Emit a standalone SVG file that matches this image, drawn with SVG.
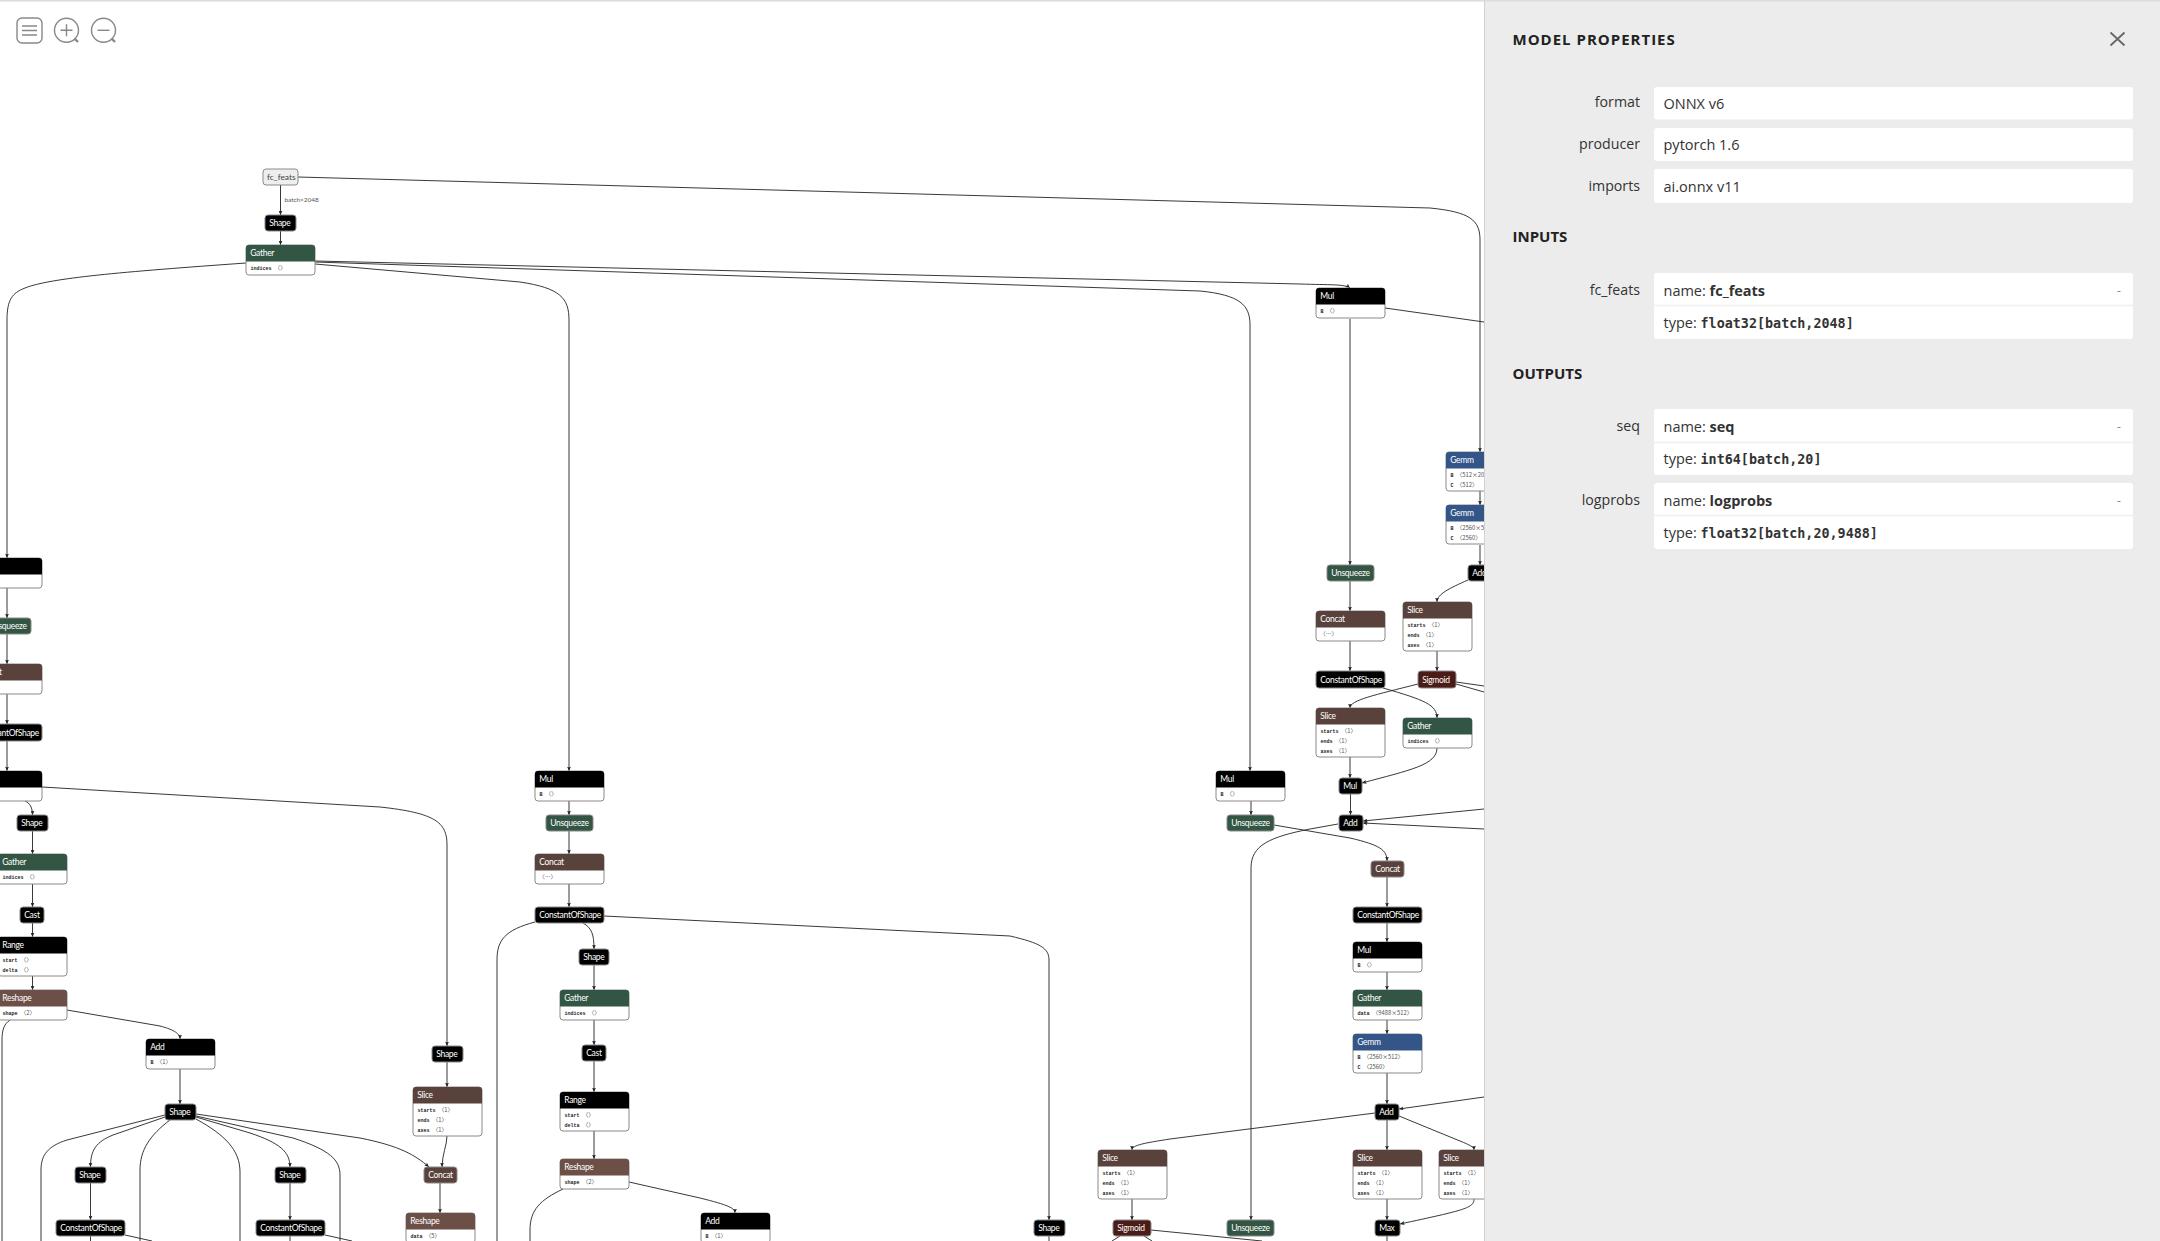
<svg xmlns="http://www.w3.org/2000/svg" width="2160" height="1241" viewBox="0 0 2160 1241">
<style>
.bg{fill:#fff}
.e{fill:none;stroke:#222;stroke-width:.9;marker-end:url(#a)}
.n{fill:none;stroke:#222;stroke-width:.9}
.r{fill:#fff;stroke:#8a8a8a;stroke-width:1}
.o{stroke:#8a8a8a;stroke-width:1}
.k{fill:#000}.g{fill:#335544}.m{fill:#59423b}.h{fill:#6c4f47}.b{fill:#335588}.s{fill:#4b1b16}
text{font-family:"Open Sans","Noto Sans",sans-serif}
.t{fill:#fff;font-size:8.500px;letter-spacing:-.3px;font-family:Lato,"Open Sans",sans-serif;transform:translate(-.3px,0)}
.a{font-family:"Liberation Mono","Noto Sans CJK SC",monospace;font-size:5px;font-weight:700;fill:#222}
.v{font-family:"Noto Sans CJK SC","Liberation Mono",monospace;font-size:5.800px;font-weight:400;fill:#555}
.i{fill:none;stroke:#888;stroke-width:1.4}
.pl{font-size:14.200px;fill:#333;text-anchor:end}
.pv{font-size:14.500px;fill:#333}
.pb{font-weight:700}
.pm{font-family:"DejaVu Sans Mono",monospace;font-size:13.400px;font-weight:700}
.ph{font-size:15px;font-weight:700;fill:#222}
.row{fill:#fff}
.dv{stroke:#f0f0f0;stroke-width:1.500}
</style>
<defs>
<marker id="a" markerUnits="userSpaceOnUse" markerWidth="5" markerHeight="4" refX="4.500" refY="2" orient="auto"><path d="M0 0L4.500 2L0 4L1 2Z" fill="#222"/></marker>
<path id="hd" d="M0 16.500V3a3 3 0 0 1 3-3H66a3 3 0 0 1 3 3V16.500Z"/>
<rect id="r30" width="69" height="30" rx="3"/>
<rect id="r39" width="69" height="39" rx="3"/>
<rect id="r49" width="69" height="49" rx="3"/>
</defs>
<rect class="bg" width="2160" height="1241"/>
<rect width="2160" height="1.500" fill="#dcdce0"/>
<g id="connectors">
<path class="e" d="M298 177L1430 208C1470 212 1480 220 1480 240V452"/>
<path class="e" d="M280.500 185V215"/>
<path class="e" d="M280.500 231V245"/>
<path class="e" d="M315 261L1300 284C1330 285 1345 284 1350 288"/>
<path class="e" d="M315 262L1200 291C1240 295 1250 305 1250 325V771"/>
<path class="e" d="M315 264L520 282C560 288 569 298 569 320V771"/>
<path class="e" d="M246 263C120 272 50 278 25 288C12 293 7 300 7 320V558"/>
<path class="n" d="M1385 308L1484 322"/>
<path class="e" d="M1350 319V565"/>
<path class="e" d="M1350 581V611"/>
<path class="e" d="M1350 641V671"/>
<path class="e" d="M1383 688C1425 700 1437 705 1437 718"/>
<path class="e" d="M1418 684C1375 695 1350 700 1350 708"/>
<path class="e" d="M1480 491V505"/>
<path class="e" d="M1480 545V565"/>
<path class="e" d="M1468 580C1450 588 1437 594 1437 602"/>
<path class="e" d="M1437 651V671"/>
<path class="n" d="M1456 682L1484 686M1456 684L1484 692"/>
<path class="e" d="M1350 757V778"/>
<path class="e" d="M1437 748C1437 765 1410 770 1362 783"/>
<path class="e" d="M1350.500 794V815"/>
<path class="e" d="M1484 809L1363 821"/>
<path class="e" d="M1484 829L1363 823"/>
<path class="e" d="M1274 825L1350 838C1380 845 1387 850 1387 861"/>
<path class="e" d="M1338 824L1310 829C1270 837 1251 845 1251 868V1220"/>
<path class="e" d="M1251 801V815"/>
<path class="e" d="M1387 877V907"/>
<path class="e" d="M1387 923V942"/>
<path class="e" d="M1387 972V990"/>
<path class="e" d="M1387 1020V1034"/>
<path class="e" d="M1387 1073V1104"/>
<path class="e" d="M1484 1097L1399 1109"/>
<path class="e" d="M1375 1113L1170 1139C1145 1143 1132 1145 1132 1150"/>
<path class="e" d="M1399 1116L1460 1141C1470 1145 1474 1147 1474 1150"/>
<path class="e" d="M1387 1120V1150"/>
<path class="e" d="M1387 1199V1220"/>
<path class="e" d="M1474 1199C1474 1208 1465 1210 1400 1224"/>
<path class="n" d="M1387 1236V1241"/>
<path class="n" d="M1151 1230L1262 1241M1120 1236L1112 1241M1144 1236L1152 1241"/>
<path class="e" d="M1132 1199V1220"/>
<path class="e" d="M604 916L1010 936C1040 943 1049 948 1049 960V1220"/>
<path class="n" d="M1049 1236V1241"/>
<path class="e" d="M583 923C592 928 594 935 594 949"/>
<path class="n" d="M535 922C505 930 497 940 497 960V1241"/>
<path class="e" d="M569 801V815"/>
<path class="e" d="M569 831V854"/>
<path class="e" d="M569 884V907"/>
<path class="e" d="M594 965V990"/>
<path class="e" d="M594 1020V1045"/>
<path class="e" d="M594 1061V1092"/>
<path class="e" d="M594 1131V1159"/>
<path class="e" d="M629 1182L700 1198C728 1205 735 1208 735 1213"/>
<path class="n" d="M563 1189C540 1200 530 1210 530 1230V1241"/>
<path class="e" d="M7 588V618"/>
<path class="e" d="M7 634V664"/>
<path class="e" d="M7 694V724"/>
<path class="e" d="M7 741V771"/>
<path class="e" d="M42 787L380 807C435 813 447 822 447 845V1046"/>
<path class="e" d="M25 801C30 803 32.500 808 32.500 815"/>
<path class="e" d="M32.500 831V854"/>
<path class="e" d="M32.500 884V907"/>
<path class="e" d="M32.500 923V937"/>
<path class="e" d="M32.500 976V990"/>
<path class="e" d="M67 1010L160 1026C175 1030 180 1034 180 1039"/>
<path class="n" d="M10 1020C4 1024 2 1030 2 1040V1241"/>
<path class="e" d="M180 1068V1104"/>
<path class="n" d="M165 1115L67 1140C48 1146 41 1155 41 1170V1241"/>
<path class="e" d="M165 1117L113 1135C96 1142 90.500 1150 90.500 1167"/>
<path class="n" d="M170 1120C150 1135 140 1150 140 1170V1241"/>
<path class="n" d="M196 1119C225 1135 240 1150 240 1172V1241"/>
<path class="e" d="M196 1117L250 1133C280 1143 290 1152 290 1167"/>
<path class="n" d="M196 1116L293 1138C330 1150 340 1160 340 1175V1241"/>
<path class="e" d="M196 1114L360 1138C400 1146 415 1155 429 1167"/>
<path class="e" d="M447 1062V1087"/>
<path class="e" d="M447 1136C447 1145 442 1155 442 1167"/>
<path class="e" d="M440 1183V1213"/>
<path class="e" d="M90.500 1183V1220"/>
<path class="e" d="M290 1183V1220"/>
<path class="n" d="M90.500 1236V1241M290 1236V1241M125 1235L152 1241M325 1235L352 1241"/>
</g>
<g id="fc_feats"><rect x="263" y="169" width="35" height="16" rx="3" fill="#eee" class="o"/><text x="267" y="180" font-size="8.400" fill="#444" style="font-family:Lato,sans-serif">fc_feats</text></g>
<text id="edge-label" x="284.500" y="201.500" font-size="6.400" fill="#555" style="font-family:Lato,sans-serif">batch×2048</text>
<g id="shape1" transform="translate(265 215)"><rect class="k o" width="31" height="16" rx="3"/><text class="t" x="4.500" y="11">Shape</text></g>
<g id="gather1" transform="translate(246 245)"><use href="#r30" class="r"/><use href="#hd" class="g"/><text class="t" x="4.500" y="11">Gather</text><text class="a" x="4.500" y="25">indices <tspan class="v">〈〉</tspan></text></g>
<g id="mul1" transform="translate(1316 288)"><use href="#r30" class="r"/><use href="#hd" class="k"/><text class="t" x="4.500" y="11">Mul</text><text class="a" x="4.500" y="25">B <tspan class="v">〈〉</tspan></text></g>
<g id="gemm1" transform="translate(1446 452)"><use href="#r39" class="r"/><use href="#hd" class="b"/><text class="t" x="4.500" y="11">Gemm</text><text class="a" x="4.500" y="25">B <tspan class="v">〈512×2048〉</tspan></text><text class="a" x="4.500" y="35">C <tspan class="v">〈512〉</tspan></text></g>
<g id="gemm2" transform="translate(1446 505)"><use href="#r39" class="r"/><use href="#hd" class="b"/><text class="t" x="4.500" y="11">Gemm</text><text class="a" x="4.500" y="25">B <tspan class="v">〈2560×512〉</tspan></text><text class="a" x="4.500" y="35">C <tspan class="v">〈2560〉</tspan></text></g>
<g id="unsq1" transform="translate(1327 565)"><rect class="g o" width="47" height="16" rx="3"/><text class="t" x="4.500" y="11">Unsqueeze</text></g>
<g id="add1" transform="translate(1468 565)"><rect class="k o" width="24" height="16" rx="3"/><text class="t" x="4.500" y="11">Add</text></g>
<g id="concat1" transform="translate(1316 611)"><use href="#r30" class="r"/><use href="#hd" class="m"/><text class="t" x="4.500" y="11">Concat</text><text class="v" x="4" y="25">〈…〉</text></g>
<g id="slice1" transform="translate(1403 602)"><use href="#r49" class="r"/><use href="#hd" class="m"/><text class="t" x="4.500" y="11">Slice</text><text class="a" x="4.500" y="25">starts <tspan class="v">〈1〉</tspan></text><text class="a" x="4.500" y="35">ends <tspan class="v">〈1〉</tspan></text><text class="a" x="4.500" y="45">axes <tspan class="v">〈1〉</tspan></text></g>
<g id="cos1" transform="translate(1316 671)"><rect class="k o" width="69" height="17" rx="3"/><text class="t" x="4.500" y="11.500">ConstantOfShape</text></g>
<g id="sigmoid1" transform="translate(1418 671)"><rect class="s o" width="38" height="17" rx="3"/><text class="t" x="4.500" y="11.500">Sigmoid</text></g>
<g id="slice2" transform="translate(1316 708)"><use href="#r49" class="r"/><use href="#hd" class="m"/><text class="t" x="4.500" y="11">Slice</text><text class="a" x="4.500" y="25">starts <tspan class="v">〈1〉</tspan></text><text class="a" x="4.500" y="35">ends <tspan class="v">〈1〉</tspan></text><text class="a" x="4.500" y="45">axes <tspan class="v">〈1〉</tspan></text></g>
<g id="gather2" transform="translate(1403 718)"><use href="#r30" class="r"/><use href="#hd" class="g"/><text class="t" x="4.500" y="11">Gather</text><text class="a" x="4.500" y="25">indices <tspan class="v">〈〉</tspan></text></g>
<g id="mul2" transform="translate(1339 778)"><rect class="k o" width="23" height="16" rx="3"/><text class="t" x="4.500" y="11">Mul</text></g>
<g id="add2" transform="translate(1339 815)"><rect class="k o" width="24" height="16" rx="3"/><text class="t" x="4.500" y="11">Add</text></g>
<g id="mul3" transform="translate(1216 771)"><use href="#r30" class="r"/><use href="#hd" class="k"/><text class="t" x="4.500" y="11">Mul</text><text class="a" x="4.500" y="25">B <tspan class="v">〈〉</tspan></text></g>
<g id="unsq2" transform="translate(1227 815)"><rect class="g o" width="47" height="16" rx="3"/><text class="t" x="4.500" y="11">Unsqueeze</text></g>
<g id="concat2" transform="translate(1371 861)"><rect class="m o" width="33" height="16" rx="3"/><text class="t" x="4.500" y="11">Concat</text></g>
<g id="cos2" transform="translate(1353 907)"><rect class="k o" width="69" height="16" rx="3"/><text class="t" x="4.500" y="11">ConstantOfShape</text></g>
<g id="mul4" transform="translate(1353 942)"><use href="#r30" class="r"/><use href="#hd" class="k"/><text class="t" x="4.500" y="11">Mul</text><text class="a" x="4.500" y="25">B <tspan class="v">〈〉</tspan></text></g>
<g id="gather3" transform="translate(1353 990)"><use href="#r30" class="r"/><use href="#hd" class="g"/><text class="t" x="4.500" y="11">Gather</text><text class="a" x="4.500" y="25">data <tspan class="v">〈9488×512〉</tspan></text></g>
<g id="gemm3" transform="translate(1353 1034)"><use href="#r39" class="r"/><use href="#hd" class="b"/><text class="t" x="4.500" y="11">Gemm</text><text class="a" x="4.500" y="25">B <tspan class="v">〈2560×512〉</tspan></text><text class="a" x="4.500" y="35">C <tspan class="v">〈2560〉</tspan></text></g>
<g id="add3" transform="translate(1375 1104)"><rect class="k o" width="24" height="16" rx="3"/><text class="t" x="4.500" y="11">Add</text></g>
<g id="slice3" transform="translate(1353 1150)"><use href="#r49" class="r"/><use href="#hd" class="m"/><text class="t" x="4.500" y="11">Slice</text><text class="a" x="4.500" y="25">starts <tspan class="v">〈1〉</tspan></text><text class="a" x="4.500" y="35">ends <tspan class="v">〈1〉</tspan></text><text class="a" x="4.500" y="45">axes <tspan class="v">〈1〉</tspan></text></g>
<g id="slice4" transform="translate(1439 1150)"><use href="#r49" class="r"/><use href="#hd" class="m"/><text class="t" x="4.500" y="11">Slice</text><text class="a" x="4.500" y="25">starts <tspan class="v">〈1〉</tspan></text><text class="a" x="4.500" y="35">ends <tspan class="v">〈1〉</tspan></text><text class="a" x="4.500" y="45">axes <tspan class="v">〈1〉</tspan></text></g>
<g id="slice5" transform="translate(1098 1150)"><use href="#r49" class="r"/><use href="#hd" class="m"/><text class="t" x="4.500" y="11">Slice</text><text class="a" x="4.500" y="25">starts <tspan class="v">〈1〉</tspan></text><text class="a" x="4.500" y="35">ends <tspan class="v">〈1〉</tspan></text><text class="a" x="4.500" y="45">axes <tspan class="v">〈1〉</tspan></text></g>
<g id="unsq3" transform="translate(1227 1220)"><rect class="g o" width="47" height="16" rx="3"/><text class="t" x="4.500" y="11">Unsqueeze</text></g>
<g id="max1" transform="translate(1375 1220)"><rect class="k o" width="25" height="16" rx="3"/><text class="t" x="4.500" y="11">Max</text></g>
<g id="sigmoid2" transform="translate(1113 1220)"><rect class="s o" width="38" height="16" rx="3"/><text class="t" x="4.500" y="11">Sigmoid</text></g>
<g id="shape2" transform="translate(1034 1220)"><rect class="k o" width="31" height="16" rx="3"/><text class="t" x="4.500" y="11">Shape</text></g>
<g id="mul5" transform="translate(535 771)"><use href="#r30" class="r"/><use href="#hd" class="k"/><text class="t" x="4.500" y="11">Mul</text><text class="a" x="4.500" y="25">B <tspan class="v">〈〉</tspan></text></g>
<g id="unsq4" transform="translate(546 815)"><rect class="g o" width="47" height="16" rx="3"/><text class="t" x="4.500" y="11">Unsqueeze</text></g>
<g id="concat3" transform="translate(535 854)"><use href="#r30" class="r"/><use href="#hd" class="m"/><text class="t" x="4.500" y="11">Concat</text><text class="v" x="4" y="25">〈…〉</text></g>
<g id="cos3" transform="translate(535 907)"><rect class="k o" width="69" height="16" rx="3"/><text class="t" x="4.500" y="11">ConstantOfShape</text></g>
<g id="shape3" transform="translate(579 949)"><rect class="k o" width="30" height="16" rx="3"/><text class="t" x="4.500" y="11">Shape</text></g>
<g id="gather4" transform="translate(560 990)"><use href="#r30" class="r"/><use href="#hd" class="g"/><text class="t" x="4.500" y="11">Gather</text><text class="a" x="4.500" y="25">indices <tspan class="v">〈〉</tspan></text></g>
<g id="cast1" transform="translate(582 1045)"><rect class="k o" width="24" height="16" rx="3"/><text class="t" x="4.500" y="11">Cast</text></g>
<g id="range1" transform="translate(560 1092)"><use href="#r39" class="r"/><use href="#hd" class="k"/><text class="t" x="4.500" y="11">Range</text><text class="a" x="4.500" y="25">start <tspan class="v">〈〉</tspan></text><text class="a" x="4.500" y="35">delta <tspan class="v">〈〉</tspan></text></g>
<g id="reshape1" transform="translate(560 1159)"><use href="#r30" class="r"/><use href="#hd" class="h"/><text class="t" x="4.500" y="11">Reshape</text><text class="a" x="4.500" y="25">shape <tspan class="v">〈2〉</tspan></text></g>
<g id="add4" transform="translate(701 1213)"><use href="#r30" class="r"/><use href="#hd" class="k"/><text class="t" x="4.500" y="11">Add</text><text class="a" x="4.500" y="25">B <tspan class="v">〈1〉</tspan></text></g>
<g id="mul6" transform="translate(-27 558)"><use href="#r30" class="r"/><use href="#hd" class="k"/><text class="t" x="4.500" y="11">Mul</text><text class="a" x="4.500" y="25">B <tspan class="v">〈〉</tspan></text></g>
<g id="unsq5" transform="translate(-16 618)"><rect class="g o" width="47" height="16" rx="3"/><text class="t" x="4.500" y="11">Unsqueeze</text></g>
<g id="concat4" transform="translate(-27 664)"><use href="#r30" class="r"/><use href="#hd" class="m"/><text class="t" x="4.500" y="11">Concat</text><text class="v" x="4" y="25">〈…〉</text></g>
<g id="cos4" transform="translate(-27 724)"><rect class="k o" width="69" height="17" rx="3"/><text class="t" x="4.500" y="11.500">ConstantOfShape</text></g>
<g id="mul7" transform="translate(-27 771)"><use href="#r30" class="r"/><use href="#hd" class="k"/><text class="t" x="4.500" y="11">Mul</text><text class="a" x="4.500" y="25">B <tspan class="v">〈〉</tspan></text></g>
<g id="shape4" transform="translate(17 815)"><rect class="k o" width="31" height="16" rx="3"/><text class="t" x="4.500" y="11">Shape</text></g>
<g id="gather5" transform="translate(-2 854)"><use href="#r30" class="r"/><use href="#hd" class="g"/><text class="t" x="4.500" y="11">Gather</text><text class="a" x="4.500" y="25">indices <tspan class="v">〈〉</tspan></text></g>
<g id="cast2" transform="translate(20 907)"><rect class="k o" width="24" height="16" rx="3"/><text class="t" x="4.500" y="11">Cast</text></g>
<g id="range2" transform="translate(-2 937)"><use href="#r39" class="r"/><use href="#hd" class="k"/><text class="t" x="4.500" y="11">Range</text><text class="a" x="4.500" y="25">start <tspan class="v">〈〉</tspan></text><text class="a" x="4.500" y="35">delta <tspan class="v">〈〉</tspan></text></g>
<g id="reshape2" transform="translate(-2 990)"><use href="#r30" class="r"/><use href="#hd" class="h"/><text class="t" x="4.500" y="11">Reshape</text><text class="a" x="4.500" y="25">shape <tspan class="v">〈2〉</tspan></text></g>
<g id="add5" transform="translate(146 1039)"><use href="#r30" class="r"/><use href="#hd" class="k"/><text class="t" x="4.500" y="11">Add</text><text class="a" x="4.500" y="25">B <tspan class="v">〈1〉</tspan></text></g>
<g id="shape5" transform="translate(165 1104)"><rect class="k o" width="31" height="16" rx="3"/><text class="t" x="4.500" y="11">Shape</text></g>
<g id="shape6" transform="translate(75 1167)"><rect class="k o" width="31" height="16" rx="3"/><text class="t" x="4.500" y="11">Shape</text></g>
<g id="shape7" transform="translate(275 1167)"><rect class="k o" width="31" height="16" rx="3"/><text class="t" x="4.500" y="11">Shape</text></g>
<g id="cos5" transform="translate(56 1220)"><rect class="k o" width="69" height="16" rx="3"/><text class="t" x="4.500" y="11">ConstantOfShape</text></g>
<g id="cos6" transform="translate(256 1220)"><rect class="k o" width="69" height="16" rx="3"/><text class="t" x="4.500" y="11">ConstantOfShape</text></g>
<g id="shape8" transform="translate(432 1046)"><rect class="k o" width="31" height="16" rx="3"/><text class="t" x="4.500" y="11">Shape</text></g>
<g id="slice6" transform="translate(413 1087)"><use href="#r49" class="r"/><use href="#hd" class="m"/><text class="t" x="4.500" y="11">Slice</text><text class="a" x="4.500" y="25">starts <tspan class="v">〈1〉</tspan></text><text class="a" x="4.500" y="35">ends <tspan class="v">〈1〉</tspan></text><text class="a" x="4.500" y="45">axes <tspan class="v">〈1〉</tspan></text></g>
<g id="concat5" transform="translate(424 1167)"><rect class="m o" width="33" height="16" rx="3"/><text class="t" x="4.500" y="11">Concat</text></g>
<g id="reshape3" transform="translate(406 1213)"><use href="#r30" class="r"/><use href="#hd" class="h"/><text class="t" x="4.500" y="11">Reshape</text><text class="a" x="4.500" y="25">data <tspan class="v">〈5〉</tspan></text></g>
<g id="toolbar">
<rect class="i" x="17" y="18" width="25" height="25" rx="5"/><path class="i" d="M22 26H37M22 30.500H37M22 35H37"/>
<circle class="i" cx="66.500" cy="30.300" r="12"/><path class="i" d="M60.500 30.300H72.500M66.500 24.300V36.300"/><path d="M74.500 38.500L78 42" stroke="#888" stroke-width="2.400" fill="none"/>
<circle class="i" cx="103.500" cy="30.300" r="12"/><path class="i" d="M97.500 30.300H109.500"/><path d="M111.500 38.500L115 42" stroke="#888" stroke-width="2.400" fill="none"/>
</g>
<g id="panel">
<rect x="1484" y="0" width="676" height="1241" fill="#ececec"/>
<rect x="1484" y="0" width="1" height="1241" fill="#d2d2d2"/>
<rect x="1485" width="675" height="1.500" fill="#dcdce0"/>
<text class="ph" x="1512.500" y="44.500" letter-spacing="1">MODEL PROPERTIES</text>
<path d="M2110.500 32.500L2124.500 45.500M2124.500 32.500L2110.500 45.500" stroke="#666" stroke-width="1.800" fill="none"/>
<rect class="row" x="1654" y="87" width="479" height="32.500" rx="3"/>
<rect class="row" x="1654" y="128" width="479" height="33" rx="3"/>
<rect class="row" x="1654" y="169" width="479" height="34" rx="3"/>
<text class="pl" x="1640" y="107">format</text><text class="pv" x="1663.500" y="108.500">ONNX v6</text>
<text class="pl" x="1640" y="149">producer</text><text class="pv" x="1663.500" y="149.500">pytorch 1.6</text>
<text class="pl" x="1640" y="191">imports</text><text class="pv" x="1663.500" y="191.500">ai.onnx v11</text>
<text class="ph" x="1512.500" y="242">INPUTS</text>
<rect class="row" x="1654" y="273" width="479" height="66" rx="3"/><path class="dv" d="M1654 305.500H2133"/>
<text class="pl" x="1640" y="295">fc_feats</text>
<text class="pv" x="1663.500" y="296">name: <tspan class="pb">fc_feats</tspan></text><text x="2119" y="295" font-size="12" fill="#888" text-anchor="middle">-</text>
<text class="pv" x="1663.500" y="328">type: <tspan class="pm">float32[batch,2048]</tspan></text>
<text class="ph" x="1512.500" y="378.500">OUTPUTS</text>
<rect class="row" x="1654" y="409" width="479" height="66" rx="3"/><path class="dv" d="M1654 442.500H2133"/>
<text class="pl" x="1640" y="431">seq</text>
<text class="pv" x="1663.500" y="432">name: <tspan class="pb">seq</tspan></text><text x="2119" y="431" font-size="12" fill="#888" text-anchor="middle">-</text>
<text class="pv" x="1663.500" y="464">type: <tspan class="pm">int64[batch,20]</tspan></text>
<rect class="row" x="1654" y="483" width="479" height="66" rx="3"/><path class="dv" d="M1654 515.500H2133"/>
<text class="pl" x="1640" y="505">logprobs</text>
<text class="pv" x="1663.500" y="506">name: <tspan class="pb">logprobs</tspan></text><text x="2119" y="505" font-size="12" fill="#888" text-anchor="middle">-</text>
<text class="pv" x="1663.500" y="538">type: <tspan class="pm">float32[batch,20,9488]</tspan></text>
</g>
</svg>
